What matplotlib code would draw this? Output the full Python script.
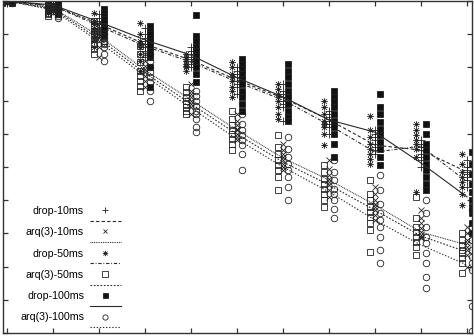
import matplotlib
matplotlib.use("Agg")
import matplotlib.pyplot as plt
from matplotlib.path import Path
from matplotlib.lines import Line2D

plt.rcParams['font.family'] = ['Liberation Sans', 'DejaVu Sans']

# x positions (one group of runs per level)
levels = list(range(11))

series_names = ["drop-10ms", "arq(3)-10ms", "drop-50ms",
                "arq(3)-50ms", "drop-100ms", "arq(3)-100ms"]

# individual runs per level (percent)
drop10_runs = [
    [100, 99.8, 99.6, 99.4, 99.7, 99.9],
    [99.5, 99, 98.5, 98, 97.5, 97, 99.2, 98.8],
    [96, 95, 94, 93.5, 93, 92, 91, 90],
    [92, 90, 89, 88, 87, 86, 85, 83],
    [86, 85, 84, 83, 82.5, 82, 81, 80],
    [80, 79, 78, 77, 76, 75, 74, 72],
    [75, 73, 72, 71, 70, 69, 68, 64],
    [67, 66, 65, 64.5, 64, 63, 62, 60],
    [61, 60, 59, 58, 57, 56, 55, 54],
    [58, 57, 56, 55, 54, 53, 52, 50],
    [52, 50, 49, 48.5, 48, 47, 46, 44],
]
arq10_runs = [
    [100, 99.8, 99.6, 99.4, 99.7, 99.9],
    [99, 98.5, 98, 97.5, 97, 96.5, 98.8, 97.8],
    [92, 91, 90, 89.5, 89, 88, 86, 83],
    [84, 82, 80.5, 79.5, 78.5, 77.5, 76, 74],
    [75, 73, 72, 71, 70, 69, 68, 66],
    [66, 64, 62.5, 61.5, 61, 60, 59, 58],
    [57, 55, 54, 53, 52, 51, 50, 49],
    [52, 49.5, 47.5, 46.5, 45.5, 44.5, 43, 41],
    [44, 42, 40, 39, 38, 37, 35.5, 34],
    [37, 34.5, 33, 31.5, 30.5, 29.5, 28.5, 29],
    [32, 30, 28, 27, 26, 25, 23.5, 20],
]
drop50_runs = [
    [100, 99.8, 99.6, 99.4, 99.7, 99.9],
    [99.5, 99, 98, 97.5, 97, 96.5, 98.5, 99.8],
    [96.5, 94, 93, 92, 91, 90, 89, 88, 86],
    [93.5, 90, 88, 87, 86, 84, 82, 79],
    [84, 83, 82.5, 82, 81, 80.5, 80, 79],
    [81.5, 80, 78, 77, 76, 74, 73, 71],
    [75, 73.5, 72, 71, 70, 68, 66, 64.5],
    [70, 68, 66, 64, 63, 62, 60, 56.5],
    [65.5, 61, 59, 57, 55.5, 54, 52.5, 51],
    [63, 61, 59.5, 58, 57, 55.5, 53, 42.5],
    [54, 51, 48.5, 47, 45.5, 44, 42, 38.5],
]
arq50_runs = [
    [100, 99.8, 99.6, 99.4, 99.7, 99.9],
    [99, 98.5, 97.5, 97, 96.5, 96, 95.5, 98],
    [94, 92.5, 91, 90, 88.5, 87, 85.5, 84],
    [86.5, 84, 81.5, 79, 77.5, 76, 74.5, 73],
    [74, 72.5, 71, 70, 69, 68, 67, 66],
    [67, 64.5, 62.5, 61, 60, 58.5, 57, 55],
    [59.5, 56, 54, 52, 50.5, 49, 47, 43],
    [50.5, 48.5, 46.5, 45, 43.5, 42, 40, 38],
    [46, 42, 40, 38, 36.5, 35, 33, 31, 24.5],
    [41, 34.5, 32, 30.5, 29, 27.5, 26, 23.5],
    [30, 28, 26.5, 25, 24, 22.5, 21, 18],
]
drop100_runs = [
    [100, 99.8, 99.6, 99.4, 99.7, 99.9],
    [100, 99.5, 99, 98.5, 98, 97.5, 97, 96.5, 96],
    [97.5, 96.5, 95.5, 94.5, 93.5, 92.5, 91.5, 90.5, 89.5],
    [92.5, 91, 90, 89, 88, 86.5, 85, 83, 80, 74],
    [95.8, 89.5, 88, 86, 85, 83.5, 82, 80, 78, 75.5],
    [82.5, 81, 79.5, 78, 76.5, 75, 73, 71, 69, 67],
    [81, 79, 77, 75, 73, 71, 69, 67, 65, 64],
    [73, 71, 69.5, 68, 66, 64, 62, 60, 57, 53],
    [72, 68, 66, 63.5, 61.5, 59.5, 57.5, 55.5, 53, 50.5],
    [63, 60, 57, 55, 53, 51, 49, 47, 45, 43],
    [54.5, 51, 48, 45, 42.5, 40, 38, 36, 33, 30],
]
arq100_runs = [
    [100, 99.8, 99.6, 99.4, 99.7, 99.9],
    [98.5, 98, 97.5, 97, 96.5, 96, 95.5, 95],
    [90, 89, 88, 87.5, 87, 86, 84, 82],
    [84, 82, 80, 78.5, 77, 75.5, 73, 70],
    [73, 71.5, 70, 68.5, 67, 66, 64.5, 62, 60.5],
    [66, 63, 61, 59.5, 58, 56.5, 54, 49],
    [59, 55.5, 53, 51, 49, 47, 44, 40],
    [52, 48.5, 46, 43.5, 42, 40, 37.5, 34.5],
    [47.5, 43, 39, 36, 34, 32, 29, 25, 21],
    [40, 36, 32, 29, 27, 24, 21, 17, 13.5],
    [37, 32, 28, 25, 23, 21, 19, 8, 0.5],
]

# average per level
drop10_mean = [100, 98.5, 93.1, 87.0, 82.2, 76.2, 70.8, 64.2, 56.6, 55.1, 48.5]
arq10_mean = [100, 97.9, 89.5, 79.2, 70.2, 61.1, 52.7, 46.1, 38.6, 30.4, 26.5]
drop50_mean = [100, 98.5, 92.5, 86.4, 81.6, 75.6, 70.2, 62.7, 54.5, 56.3, 45.5]
arq50_mean = [100, 97.6, 88.6, 78.3, 69.0, 59.9, 51.5, 44.6, 37.0, 29.2, 24.4]
drop100_mean = [100, 98.8, 93.7, 88.3, 83.7, 76.9, 71.1, 64.2, 60.5, 51.2, 41.0]
arq100_mean = [100, 97.3, 87.7, 77.4, 67.8, 58.4, 50.0, 42.5, 34.0, 26.5, 20.5]

all_runs = [drop10_runs, arq10_runs, drop50_runs,
            arq50_runs, drop100_runs, arq100_runs]
all_means = [drop10_mean, arq10_mean, drop50_mean,
             arq50_mean, drop100_mean, arq100_mean]

# gnuplot-like "*" point: plus and cross overlaid
star_path = Path(
    [(-1, 0), (1, 0), (0, -1), (0, 1),
     (-0.75, -0.75), (0.75, 0.75), (-0.75, 0.75), (0.75, -0.75)],
    [Path.MOVETO, Path.LINETO] * 4)

ink = '#222222'
styles = [
    dict(marker='+', ms=5.2, mfc='none', shift=0.0, ls=(0, (3.0, 2.0))),
    dict(marker='x', ms=4.3, mfc='none', shift=0.0, ls=(0, (0.8, 0.8))),
    dict(marker=star_path, ms=4.8, mfc='none', shift=-0.1, ls=(0, (3.0, 1.6, 0.8, 1.6))),
    dict(marker='s', ms=4.7, mfc='none', shift=-0.1, ls=(0, (1.5, 1.5))),
    dict(marker='s', ms=4.5, mfc='#111111', shift=0.1, ls='-'),
    dict(marker='o', ms=4.7, mfc='none', shift=0.1, ls=(0, (1.2, 1.6))),
]

fig = plt.figure(figsize=(4.74, 3.36), dpi=100)
ax = fig.add_axes([3 / 474, 3 / 336, 469 / 474, 332 / 336])

handles, labels = [], []
for name, runs, mean, st in zip(series_names, all_runs, all_means, styles):
    xs, ys = [], []
    for lv, vals in zip(levels, runs):
        for v in vals:
            xs.append(lv + st['shift'])
            ys.append(v)
    ax.plot(xs, ys, linestyle='none', marker=st['marker'], ms=st['ms'],
            mfc=st['mfc'], mec=ink, mew=0.6, color=ink)
    ax.plot(levels, mean, linestyle=st['ls'], color='#2a2a2a', lw=0.8)
    handles.append(Line2D([], [], linestyle='none', marker=st['marker'],
                          ms=st['ms'] * 0.8, mfc=st['mfc'], mec=ink, mew=0.6))
    labels.append(name)
    handles.append(Line2D([], [], linestyle=st['ls'], color='#2a2a2a', lw=0.8))
    labels.append("")

ax.set_xlim(-4 / 46, 10 + 5 / 46)
ax.set_ylim(0, 100)
ax.set_xticks(levels)
ax.set_yticks(range(0, 101, 10))
ax.tick_params(direction='in', length=3.5, width=0.9, color='#333333',
               top=True, right=True, labelbottom=False, labelleft=False)
for sp in ax.spines.values():
    sp.set_linewidth(1.0)
    sp.set_color('#333333')

ax.legend(handles, labels, loc='lower right', bbox_to_anchor=(0.2516, 0.0),
          frameon=False, markerfirst=False, fontsize=7.7, handlelength=2.9,
          handletextpad=0.55, labelspacing=0.06, borderpad=0.0,
          borderaxespad=0.0)

fig.savefig("out.png", dpi=100)
